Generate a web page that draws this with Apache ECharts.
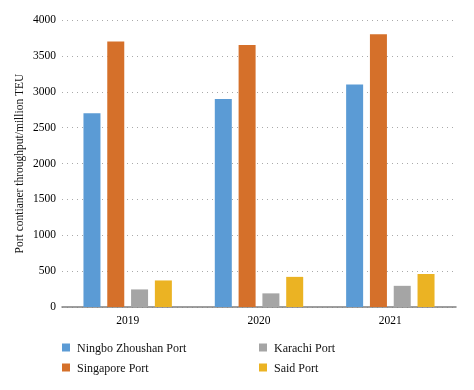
<!DOCTYPE html>
<html><head><meta charset="utf-8">
<script src="https://cdn.jsdelivr.net/npm/echarts@6/dist/echarts.min.js"></script>
<style>html,body{margin:0;padding:0;background:#fff}#c{width:474px;height:390px}</style>
</head><body><div id="c"></div>
<script>
const categories = ['2019', '2020', '2021'];
const ningbo = [2700, 2900, 3100];
const singapore = [3700, 3650, 3800];
const karachi = [245, 190, 295];
const said = [370, 420, 460];
const seriesNames = ['Ningbo Zhoushan Port', 'Singapore Port', 'Karachi Port', 'Said Port'];
const yTicks = [0, 500, 1000, 1500, 2000, 2500, 3000, 3500, 4000];

const font = 'Liberation Serif';
const colors = ['#5B9BD5', '#D5702A', '#A5A5A5', '#EBB323'];
const chart = echarts.init(document.getElementById('c'));
const mk = (name, data, i) => ({
  name, type: 'bar', data, barWidth: 17, barGap: '40%',
  itemStyle: { color: colors[i] }
});
// legend label positions (text drawn as graphic so the serif face is honoured)
const legendPos = [[77, 349], [77, 369], [274, 349], [274, 369]];
const legendCommon = {
  orient: 'vertical', top: 336, itemWidth: 8, itemHeight: 8, itemGap: 7, icon: 'rect',
  textStyle: { fontFamily: font, fontSize: 13, color: 'rgba(0,0,0,0)' }
};
chart.setOption({
  animation: false,
  textStyle: { fontFamily: font },
  grid: { left: 62, right: 18, top: 20, bottom: 83 },
  legend: [
    Object.assign({ data: [seriesNames[0], seriesNames[1]], left: 57 }, legendCommon),
    Object.assign({ data: [seriesNames[2], seriesNames[3]], left: 254 }, legendCommon)
  ],
  graphic: [0, 1, 2, 3].map(i => ({
    type: 'text', silent: true,
    style: { x: legendPos[i][0], y: legendPos[i][1], text: seriesNames[i],
      fontFamily: font, fontSize: 12, fill: '#111', verticalAlign: 'middle', align: 'left' }
  })),
  xAxis: {
    type: 'category', data: categories,
    axisLine: { lineStyle: { color: '#7f7f7f', width: 1.5 } },
    axisTick: { show: false },
    axisLabel: { fontFamily: font, fontSize: 11.5, color: '#000', margin: 8 }
  },
  yAxis: {
    type: 'value', min: yTicks[0], max: yTicks[yTicks.length - 1], interval: 500,
    name: 'Port contianer throughput/million TEU', nameLocation: 'middle', nameGap: 36,
    nameMoveOverlap: false,
    nameTextStyle: { fontFamily: font, fontSize: 11.5, color: '#111' },
    axisLine: { show: false }, axisTick: { show: false },
    axisLabel: { fontFamily: font, fontSize: 11.5, color: '#000', margin: 6,
      formatter: v => String(v) },
    splitLine: { lineStyle: { type: [1, 4], color: '#aaa', width: 1 } }
  },
  series: [
    mk(seriesNames[0], ningbo, 0),
    mk(seriesNames[1], singapore, 1),
    mk(seriesNames[2], karachi, 2),
    mk(seriesNames[3], said, 3)
  ]
});
</script></body></html>
